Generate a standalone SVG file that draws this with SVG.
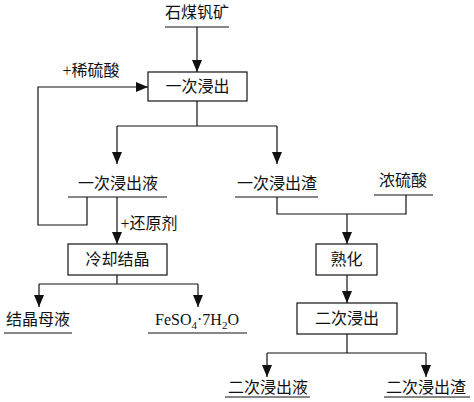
<svg xmlns="http://www.w3.org/2000/svg" width="474" height="402" viewBox="0 0 474 402">
<defs>
<style>
.t{font-family:"Liberation Serif","Noto Sans CJK SC",serif;font-size:16px;fill:#111;text-anchor:middle}
.b{fill:#fff;stroke:#111;stroke-width:1.2}
.l{fill:none;stroke:#111;stroke-width:1.2}
</style>
<marker id="ah" markerUnits="userSpaceOnUse" markerWidth="12" markerHeight="10" refX="12" refY="5" orient="auto">
<path d="M0,0 L12,5 L0,10 z" fill="#111"/>
</marker>
</defs>
<rect width="474" height="402" fill="#fff"/>
<g id="connectors">
<path class="l" d="M165,27 H229"/>
<path class="l" d="M197,27 V72" marker-end="url(#ah)"/>
<path class="l" d="M197,101 V126 M117,126 H277"/>
<path class="l" d="M117,126 V164" marker-end="url(#ah)"/>
<path class="l" d="M277,126 V164" marker-end="url(#ah)"/>
<path class="l" d="M68,197 H167 M235,197 H318 M374,195 H433"/>
<path class="l" d="M87,197 V225 H38 V87 H148" marker-end="url(#ah)"/>
<path class="l" d="M117,197 V244" marker-end="url(#ah)"/>
<path class="l" d="M277,197 V214 H406 V195"/>
<path class="l" d="M347,214 V244" marker-end="url(#ah)"/>
<path class="l" d="M117,275 V284 M39,284 H198"/>
<path class="l" d="M39,284 V307" marker-end="url(#ah)"/>
<path class="l" d="M198,284 V307" marker-end="url(#ah)"/>
<path class="l" d="M4,333 H72 M148,333 H247"/>
<path class="l" d="M347,275 V303" marker-end="url(#ah)"/>
<path class="l" d="M347,334 V353 M267,353 H426"/>
<path class="l" d="M267,353 V377" marker-end="url(#ah)"/>
<path class="l" d="M426,353 V377" marker-end="url(#ah)"/>
<path class="l" d="M225,397 H310 M384,397 H470"/>
</g>
<g id="n_ore"><text class="t" x="197" y="18">石煤钒矿</text></g>
<g id="n_acid1"><text class="t" x="91" y="76">+稀硫酸</text></g>
<g id="n_leach1"><rect class="b" x="148" y="72" width="99" height="29"/><text class="t" x="197.5" y="92">一次浸出</text></g>
<g id="n_liq1"><text class="t" x="118" y="189">一次浸出液</text></g>
<g id="n_res1"><text class="t" x="277" y="189">一次浸出渣</text></g>
<g id="n_acid2"><text class="t" x="403" y="186">浓硫酸</text></g>
<g id="n_red"><text class="t" x="149" y="229">+还原剂</text></g>
<g id="n_cryst"><rect class="b" x="68" y="244" width="99" height="31"/><text class="t" x="117.5" y="265">冷却结晶</text></g>
<g id="n_mat"><rect class="b" x="316" y="244" width="61" height="31"/><text class="t" x="346.5" y="265">熟化</text></g>
<g id="n_mother"><text class="t" x="38" y="325">结晶母液</text></g>
<g id="n_feso4"><text class="t" x="197" y="325">FeSO<tspan font-size="11" dy="4">4</tspan><tspan dy="-4">·7H</tspan><tspan font-size="11" dy="4">2</tspan><tspan dy="-4">O</tspan></text></g>
<g id="n_leach2"><rect class="b" x="297" y="303" width="100" height="31"/><text class="t" x="347" y="324">二次浸出</text></g>
<g id="n_liq2"><text class="t" x="268" y="393">二次浸出液</text></g>
<g id="n_res2"><text class="t" x="426" y="393">二次浸出渣</text></g>
</svg>
